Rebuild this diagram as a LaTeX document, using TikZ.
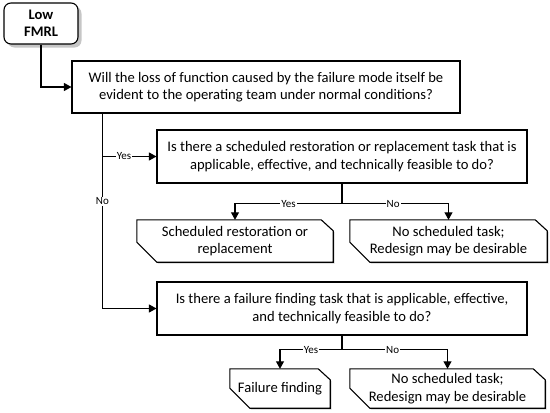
\documentclass[tikz,border=0pt]{standalone}
\usepackage{fontspec}
\setmainfont{Carlito}
\usetikzlibrary{arrows.meta,calc,shadows}
\begin{document}
\begin{tikzpicture}[x=1pt,y=-1pt,
  font=\fontsize{14.6}{17.5}\selectfont,
  qbox/.style={draw,line width=1.1pt,fill=white,inner sep=0pt,align=center,
    drop shadow={shadow xshift=1.2pt,shadow yshift=-1.2pt,fill=gray!35,opacity=1}},
  startbox/.style={draw,line width=1.1pt,fill=white,rounded corners=7pt,inner sep=0pt,align=center,
    font=\fontsize{14.6}{17.5}\selectfont\bfseries,
    drop shadow={shadow xshift=3.5pt,shadow yshift=-3.5pt,fill=gray!45,opacity=1}},
  cardtext/.style={inner sep=0pt,align=center},
  cardline/.style={draw,line width=1.1pt,fill=white,line join=miter},
  cardshadow/.style={fill=gray!35},
  conn/.style={line width=1.1pt,-{Triangle[length=7.5pt,width=8pt]}},
  lbl/.style={fill=white,inner sep=1pt,font=\fontsize{11}{13}\selectfont}]
\useasboundingbox (0,0) rectangle (550,413);
\newcommand\drawcard[1]{%
  \path[cardshadow] ([xshift=1.5pt,yshift=-1.5pt]#1.north west) -- ([xshift=-10.5pt,yshift=-1.5pt]#1.north east)
    -- ([xshift=1.5pt,yshift=-12.5pt]#1.north east) -- ([xshift=1.5pt,yshift=-1.5pt]#1.south east)
    -- ([xshift=21.5pt,yshift=-1.5pt]#1.south west) -- ([xshift=1.5pt,yshift=18.5pt]#1.south west) -- cycle;
  \path[cardline] (#1.north west) -- ([xshift=-12pt]#1.north east) -- ([yshift=-11pt]#1.north east)
    -- (#1.south east) -- ([xshift=20pt]#1.south west) -- ([yshift=20pt]#1.south west) -- cycle;}

% nodes
\node[startbox,minimum width=74,minimum height=41] (lf) at (41,23.5) {Low\\FMRL};
\node[qbox,minimum width=388,minimum height=52] (b1) at (266,87)
  {Will the loss of function caused by the failure mode itself be\\evident to the operating team under normal conditions?};
\node[qbox,minimum width=370,minimum height=53] (b2) at (342,156.5)
  {Is there a scheduled restoration or replacement task that is\\applicable, effective, and technically feasible to do?};
\node[qbox,minimum width=370,minimum height=53] (b3) at (342,308.5)
  {Is there a failure finding task that is applicable, effective,\\and technically feasible to do?};

\node[cardtext,minimum width=196,minimum height=42] (c1) at (235,241) {};
\node[cardtext,minimum width=197,minimum height=42] (c2) at (448.5,241) {};
\node[cardtext,minimum width=100,minimum height=39] (c3) at (280,388.5) {};
\node[cardtext,minimum width=195,minimum height=39] (c4) at (447.5,388.5) {};
\drawcard{c1}\drawcard{c2}\drawcard{c3}\drawcard{c4}
\node[cardtext] (t1) at (c1) {Scheduled restoration or\\replacement};
\node[cardtext] (t2) at (c2) {No scheduled task;\\Redesign may be desirable};
\node[cardtext] (t3) at (c3) {Failure finding};
\node[cardtext] (t4) at (c4) {No scheduled task;\\Redesign may be desirable};

% junctions
\coordinate (s1) at ([xshift=31pt]b1.south west);
\coordinate (j2) at ($(b2.south)+(0,20)$);
\coordinate (j3) at ($(b3.south)+(0,14)$);

% connectors
\draw[conn] (lf.south) |- (b1.west);
\draw[conn] (s1) |- node[lbl,pos=0.7]{Yes} (b2.west);
\draw[conn] (s1) |- node[lbl,pos=0.225]{No} (b3.west);
\draw[line width=1.1pt] (b2.south) -- (j2);
\draw[conn] (j2) -| node[lbl,pos=0.25]{Yes} (c1.north);
\draw[conn] (j2) -| node[lbl,pos=0.24]{No} (c2.north);
\draw[line width=1.1pt] (b3.south) -- (j3);
\draw[conn] (j3) -| node[lbl,pos=0.25]{Yes} (c3.north);
\draw[conn] (j3) -| node[lbl,pos=0.24]{No} (c4.north);
\end{tikzpicture}
\end{document}
